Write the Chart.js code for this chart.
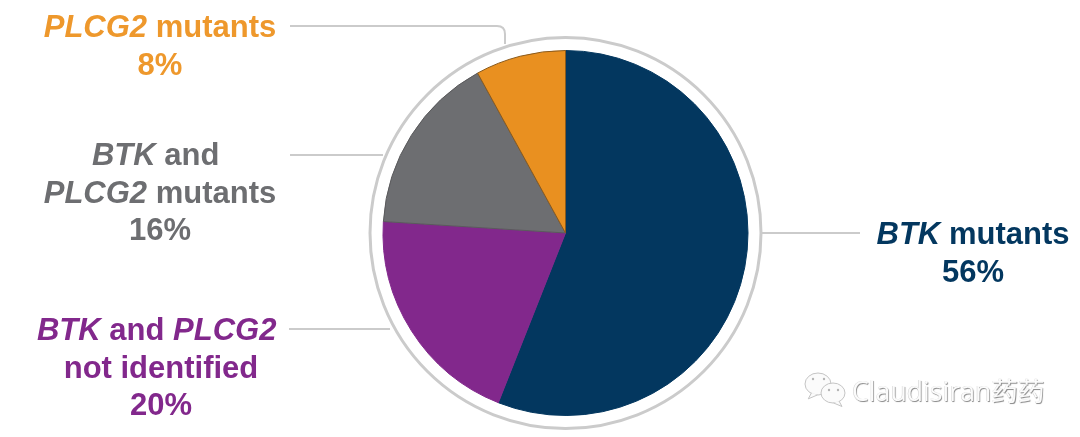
<!DOCTYPE html>
<html>
<head>
<meta charset="utf-8">
<script src="https://cdn.jsdelivr.net/npm/chart.js@4"></script>
<style>
  html, body { margin: 0; padding: 0; background: #fff; }
  #wrap { position: relative; width: 1080px; height: 437px; overflow: hidden; filter: blur(0.5px); }
  #grafica { position: absolute; left: 0; top: 0; }
  .etiqueta {
    position: absolute;
    transform: translate(-50%, -50%);
    text-align: center;
    white-space: nowrap;
    font: bold 31px/37.5px "Liberation Sans", Arial, sans-serif;
  }
  #marca {
    position: absolute;
    left: 852px;
    top: 375px;
    font: 26.7px/32px "Open Sans", "Noto Sans CJK SC", sans-serif;
    color: #fbfbfb;
    text-shadow: 0.8px 0.8px 0.8px #8a8a8a, -0.4px -0.4px 0.5px #cfcfcf;
    white-space: nowrap;
  }
</style>
</head>
<body>
<div id="wrap">
  <canvas id="grafica" width="1080" height="437"></canvas>
  <div class="etiqueta" style="left:160px;top:45px;color:#ee982c"><i>PLCG2</i> mutants<br>8%</div>
  <div class="etiqueta" style="left:160px;top:192px;color:#6d6e71"><i>BTK</i> and&nbsp;<br><i>PLCG2</i> mutants<br>16%</div>
  <div class="etiqueta" style="left:161px;top:367px;color:#82288c"><i>BTK</i> and <i>PLCG2</i>&nbsp;<br>not identified<br>20%</div>
  <div class="etiqueta" style="left:973px;top:252px;color:#03375f"><i>BTK</i> mutants<br>56%</div>
  <div id="marca">Claudisiran药药</div>
</div>
<script>
const categorias = ["BTK mutants", "BTK and PLCG2 not identified", "BTK and PLCG2 mutants", "PLCG2 mutants"];
const valores = [56, 20, 16, 8];
const colores = ["#03375f", "#82288c", "#6d6e71", "#e99020"];
const bordes = ["#03375f", "#82288c", "#5a5a5c", "#8a5a1c"];

// ring round the pie, leader lines and the small chat icon
const adornos = {
  id: "adornos",
  afterDraw(chart) {
    const ctx = chart.ctx;
    const arco = chart.getDatasetMeta(0).data[0];
    const cx = arco.x, cy = arco.y, r = arco.outerRadius;

    ctx.save();
    ctx.strokeStyle = "#cbcbcb";
    ctx.lineWidth = 3;
    ctx.beginPath();
    ctx.arc(cx, cy, r + 13, 0, Math.PI * 2);
    ctx.stroke();

    ctx.lineWidth = 2;
    ctx.beginPath();
    ctx.moveTo(290, 26);
    ctx.lineTo(497, 26);
    ctx.quadraticCurveTo(505, 26, 505, 34);
    ctx.lineTo(505, 44);
    ctx.moveTo(290, 155);
    ctx.lineTo(383, 155);
    ctx.moveTo(289, 329);
    ctx.lineTo(390, 329);
    ctx.moveTo(762, 233);
    ctx.lineTo(860, 233);
    ctx.stroke();

    // wechat icon
    ctx.lineWidth = 1;
    ctx.strokeStyle = "#c4c4c4";
    ctx.fillStyle = "#fbfbfb";
    burbuja(ctx, 818, 384, 13, 11, -1);
    burbuja(ctx, 833, 393, 12, 10, 1);
    ctx.fillStyle = "#b5b5b5";
    [[813, 379], [824, 379], [829, 390], [838, 390]].forEach(([x, y]) => {
      ctx.beginPath();
      ctx.arc(x, y, 1.2, 0, Math.PI * 2);
      ctx.fill();
    });
    ctx.restore();
  },
};

function burbuja(ctx, x, y, rx, ry, lado) {
  ctx.beginPath();
  ctx.ellipse(x, y, rx, ry, 0, 0, Math.PI * 2);
  ctx.fill();
  ctx.stroke();
  ctx.beginPath();
  ctx.moveTo(x + lado * rx * 0.5, y + ry * 0.8);
  ctx.lineTo(x + lado * rx * 0.75, y + ry * 1.35);
  ctx.lineTo(x + lado * rx * 0.05, y + ry);
  ctx.fill();
  ctx.stroke();
}

new Chart(document.getElementById("grafica"), {
  type: "pie",
  data: {
    labels: categorias,
    datasets: [{
      data: valores,
      backgroundColor: colores,
      borderColor: bordes,
      borderWidth: 1,
    }],
  },
  options: {
    responsive: false,
    animation: false,
    layout: { padding: { left: 382, right: 331, top: 50, bottom: 21 } },
    plugins: {
      legend: { display: false },
      tooltip: { enabled: false },
    },
  },
  plugins: [adornos],
});
</script>
</body>
</html>
